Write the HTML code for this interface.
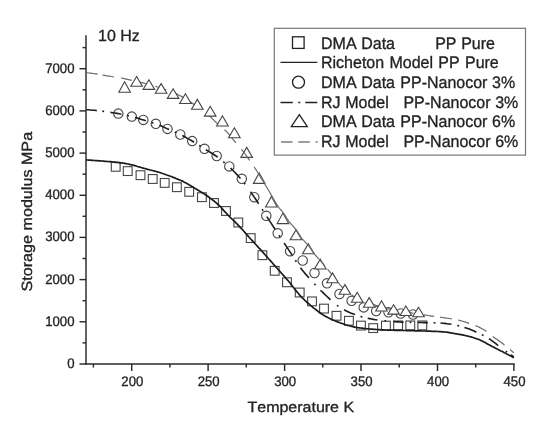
<!DOCTYPE html>
<html><head><meta charset="utf-8"><title>Storage modulus</title>
<style>
html,body{margin:0;padding:0;background:#fff;}
body{width:550px;height:431px;overflow:hidden;}
svg{display:block;text-rendering:geometricPrecision;font-kerning:none;font-family:"Liberation Sans",sans-serif;fill:#222;}
text{stroke:#222;stroke-width:0.3px;}
.tk{font-size:13.2px;}
.lg{font-size:16px;word-spacing:0.2px;}
</style></head><body>
<svg width="550" height="431" viewBox="0 0 550 431">
<defs><filter id="b" x="-2%" y="-2%" width="104%" height="104%"><feGaussianBlur stdDeviation="0.6"/></filter></defs>
<rect width="550" height="431" fill="#fff"/>
<g filter="url(#b)">
<g stroke="#2a2a2a" stroke-width="1.45" fill="none">
<path d="M86.0,35.3V364.8"/><path d="M85.2,364.0H514.8"/>
<path d="M86.0,364.0h-6.5"/>
<path d="M86.0,342.9h-3.5"/>
<path d="M86.0,321.8h-6.5"/>
<path d="M86.0,300.7h-3.5"/>
<path d="M86.0,279.6h-6.5"/>
<path d="M86.0,258.5h-3.5"/>
<path d="M86.0,237.4h-6.5"/>
<path d="M86.0,216.3h-3.5"/>
<path d="M86.0,195.3h-6.5"/>
<path d="M86.0,174.2h-3.5"/>
<path d="M86.0,153.1h-6.5"/>
<path d="M86.0,132.0h-3.5"/>
<path d="M86.0,110.9h-6.5"/>
<path d="M86.0,89.8h-3.5"/>
<path d="M86.0,68.7h-6.5"/>
<path d="M86.0,47.6h-3.5"/>
<path d="M93.4,364.0v3.5"/>
<path d="M131.7,364.0v7"/>
<path d="M169.9,364.0v3.5"/>
<path d="M208.1,364.0v7"/>
<path d="M246.3,364.0v3.5"/>
<path d="M284.6,364.0v7"/>
<path d="M322.8,364.0v3.5"/>
<path d="M361.0,364.0v7"/>
<path d="M399.2,364.0v3.5"/>
<path d="M437.5,364.0v7"/>
<path d="M475.7,364.0v3.5"/>
<path d="M513.9,364.0v7"/>
</g>
<text class="tk" transform="translate(74.5,368.0) scale(1,1.045)" text-anchor="end">0</text>
<text class="tk" transform="translate(74.5,325.8) scale(1,1.045)" text-anchor="end">1000</text>
<text class="tk" transform="translate(74.5,283.6) scale(1,1.045)" text-anchor="end">2000</text>
<text class="tk" transform="translate(74.5,241.4) scale(1,1.045)" text-anchor="end">3000</text>
<text class="tk" transform="translate(74.5,199.3) scale(1,1.045)" text-anchor="end">4000</text>
<text class="tk" transform="translate(74.5,157.1) scale(1,1.045)" text-anchor="end">5000</text>
<text class="tk" transform="translate(74.5,114.9) scale(1,1.045)" text-anchor="end">6000</text>
<text class="tk" transform="translate(74.5,72.7) scale(1,1.045)" text-anchor="end">7000</text>
<text class="tk" transform="translate(132.3,385.5) scale(1,1.045)" text-anchor="middle">200</text>
<text class="tk" transform="translate(208.7,385.5) scale(1,1.045)" text-anchor="middle">250</text>
<text class="tk" transform="translate(285.2,385.5) scale(1,1.045)" text-anchor="middle">300</text>
<text class="tk" transform="translate(361.6,385.5) scale(1,1.045)" text-anchor="middle">350</text>
<text class="tk" transform="translate(438.1,385.5) scale(1,1.045)" text-anchor="middle">400</text>
<text class="tk" transform="translate(514.5,385.5) scale(1,1.045)" text-anchor="middle">450</text>
<text transform="translate(300.8,412.4) scale(1.127,1.045)" text-anchor="middle" font-size="14.2px">Temperature K</text>
<text transform="translate(32.4,211.7) rotate(-90) scale(1.137,1.045)" text-anchor="middle" font-size="14.2px">Storage modulus MPa</text>
<text transform="translate(98,41.1) scale(1,1.0)" font-size="16px">10 Hz</text>
<g fill="none" stroke="#444" stroke-width="1.1">
<rect x="111.3" y="162.4" width="8.8" height="8.8"/>
<rect x="123.3" y="166.7" width="8.8" height="8.8"/>
<rect x="136.1" y="170.8" width="8.8" height="8.8"/>
<rect x="148.3" y="174.6" width="8.8" height="8.8"/>
<rect x="160.3" y="178.5" width="8.8" height="8.8"/>
<rect x="172.5" y="182.8" width="8.8" height="8.8"/>
<rect x="184.8" y="187.4" width="8.8" height="8.8"/>
<rect x="197.5" y="192.8" width="8.8" height="8.8"/>
<rect x="209.6" y="198.6" width="8.8" height="8.8"/>
<rect x="221.6" y="206.6" width="8.8" height="8.8"/>
<rect x="233.9" y="218.1" width="8.8" height="8.8"/>
<rect x="246.3" y="233.7" width="8.8" height="8.8"/>
<rect x="258.0" y="250.8" width="8.8" height="8.8"/>
<rect x="270.3" y="266.4" width="8.8" height="8.8"/>
<rect x="282.6" y="277.9" width="8.8" height="8.8"/>
<rect x="295.3" y="288.1" width="8.8" height="8.8"/>
<rect x="307.6" y="297.0" width="8.8" height="8.8"/>
<rect x="319.6" y="304.2" width="8.8" height="8.8"/>
<rect x="332.1" y="311.4" width="8.8" height="8.8"/>
<rect x="344.5" y="316.4" width="8.8" height="8.8"/>
<rect x="356.5" y="321.2" width="8.8" height="8.8"/>
<rect x="368.8" y="323.7" width="8.8" height="8.8"/>
<rect x="381.5" y="321.2" width="8.8" height="8.8"/>
<rect x="393.7" y="321.0" width="8.8" height="8.8"/>
<rect x="405.9" y="321.0" width="8.8" height="8.8"/>
<rect x="417.9" y="321.0" width="8.8" height="8.8"/>
</g>
<polyline points="86.0,159.9 87.4,160.0 88.9,160.1 90.3,160.2 91.7,160.3 93.2,160.4 94.6,160.5 96.0,160.6 97.4,160.7 98.9,160.8 100.3,160.9 101.7,161.0 103.2,161.1 104.6,161.3 106.0,161.4 107.5,161.5 108.9,161.6 110.3,161.7 111.8,161.8 113.2,162.0 114.6,162.1 116.0,162.3 117.5,162.4 118.9,162.6 120.3,162.8 121.8,162.9 123.2,163.2 124.6,163.4 126.1,163.7 127.5,164.0 128.9,164.2 130.4,164.6 131.8,164.9 133.2,165.2 134.6,165.6 136.1,166.0 137.5,166.5 138.9,166.9 140.4,167.3 141.8,167.7 143.2,168.1 144.7,168.5 146.1,168.9 147.5,169.3 149.0,169.6 150.4,170.0 151.8,170.3 153.2,170.7 154.7,171.1 156.1,171.5 157.5,171.9 159.0,172.3 160.4,172.8 161.8,173.3 163.3,173.8 164.7,174.2 166.1,174.8 167.6,175.3 169.0,175.8 170.4,176.3 171.8,176.8 173.3,177.4 174.7,177.9 176.1,178.5 177.6,179.1 179.0,179.7 180.4,180.3 181.9,180.9 183.3,181.6 184.7,182.4 186.2,183.1 187.6,183.9 189.0,184.8 190.4,185.6 191.9,186.4 193.3,187.3 194.7,188.2 196.2,189.0 197.6,189.9 199.0,190.7 200.5,191.6 201.9,192.5 203.3,193.4 204.8,194.4 206.2,195.3 207.6,196.3 209.0,197.3 210.5,198.4 211.9,199.4 213.3,200.5 214.8,201.6 216.2,202.8 217.6,204.1 219.1,205.4 220.5,206.8 221.9,208.4 223.4,210.1 224.8,211.7 226.2,213.2 227.6,214.7 229.1,216.1 230.5,217.6 231.9,219.0 233.4,220.3 234.8,221.7 236.2,223.2 237.7,224.6 239.1,226.1 240.5,227.7 242.0,229.2 243.4,230.8 244.8,232.4 246.2,234.0 247.7,235.6 249.1,237.2 250.5,238.8 252.0,240.4 253.4,241.9 254.8,243.5 256.3,245.0 257.7,246.6 259.1,248.2 260.6,249.7 262.0,251.3 263.4,252.9 264.8,254.5 266.3,256.1 267.7,257.7 269.1,259.3 270.6,260.9 272.0,262.5 273.4,264.2 274.9,265.8 276.3,267.4 277.7,269.0 279.2,270.6 280.6,272.2 282.0,273.8 283.4,275.4 284.9,277.0 286.3,278.7 287.7,280.3 289.2,282.0 290.6,283.8 292.0,285.6 293.5,287.4 294.9,289.3 296.3,291.1 297.8,292.8 299.2,294.5 300.6,296.1 302.0,297.6 303.5,299.0 304.9,300.4 306.3,301.7 307.8,303.0 309.2,304.2 310.6,305.4 312.1,306.6 313.5,307.8 314.9,308.9 316.4,310.0 317.8,311.1 319.2,312.2 320.6,313.2 322.1,314.2 323.5,315.1 324.9,316.0 326.4,316.8 327.8,317.6 329.2,318.3 330.7,319.0 332.1,319.6 333.5,320.2 335.0,320.8 336.4,321.4 337.8,321.9 339.2,322.5 340.7,323.0 342.1,323.5 343.5,324.0 345.0,324.5 346.4,325.0 347.8,325.4 349.3,325.8 350.7,326.2 352.1,326.5 353.6,326.8 355.0,327.1 356.4,327.3 357.8,327.6 359.3,327.8 360.7,328.0 362.1,328.2 363.6,328.4 365.0,328.5 366.4,328.7 367.9,328.8 369.3,329.0 370.7,329.1 372.2,329.2 373.6,329.3 375.0,329.4 376.4,329.5 377.9,329.6 379.3,329.7 380.7,329.8 382.2,329.9 383.6,329.9 385.0,330.0 386.5,330.0 387.9,330.1 389.3,330.1 390.8,330.1 392.2,330.2 393.6,330.2 395.0,330.3 396.5,330.3 397.9,330.3 399.3,330.4 400.8,330.4 402.2,330.5 403.6,330.5 405.1,330.5 406.5,330.6 407.9,330.6 409.4,330.6 410.8,330.7 412.2,330.7 413.6,330.7 415.1,330.8 416.5,330.8 417.9,330.8 419.4,330.9 420.8,330.9 422.2,331.0 423.7,331.0 425.1,331.0 426.5,331.1 428.0,331.1 429.4,331.2 430.8,331.2 432.2,331.3 433.7,331.3 435.1,331.4 436.5,331.4 438.0,331.5 439.4,331.6 440.8,331.7 442.3,331.8 443.7,331.9 445.1,332.0 446.6,332.2 448.0,332.4 449.4,332.6 450.8,332.8 452.3,333.1 453.7,333.3 455.1,333.6 456.6,333.8 458.0,334.1 459.4,334.3 460.9,334.6 462.3,334.9 463.7,335.2 465.2,335.5 466.6,335.8 468.0,336.2 469.4,336.5 470.9,336.9 472.3,337.3 473.7,337.8 475.2,338.2 476.6,338.7 478.0,339.2 479.5,339.8 480.9,340.4 482.3,341.1 483.8,341.9 485.2,342.6 486.6,343.4 488.0,344.2 489.5,345.0 490.9,345.8 492.3,346.6 493.8,347.3 495.2,348.1 496.6,348.8 498.1,349.5 499.5,350.2 500.9,350.9 502.4,351.6 503.8,352.4 505.2,353.1 506.6,353.9 508.1,354.6 509.5,355.4 510.9,356.1 512.4,356.9 513.8,357.7" fill="none" stroke="#1a1a1a" stroke-width="1.7"/>
<g fill="none" stroke="#444" stroke-width="1.1">
<circle cx="118.3" cy="113.6" r="4.7"/>
<circle cx="131.8" cy="116.6" r="4.7"/>
<circle cx="143.3" cy="119.9" r="4.7"/>
<circle cx="155.8" cy="123.8" r="4.7"/>
<circle cx="167.5" cy="128.9" r="4.7"/>
<circle cx="180.3" cy="134.5" r="4.7"/>
<circle cx="192.2" cy="141.1" r="4.7"/>
<circle cx="204.5" cy="148.8" r="4.7"/>
<circle cx="216.7" cy="156.0" r="4.7"/>
<circle cx="229.3" cy="166.4" r="4.7"/>
<circle cx="241.8" cy="178.8" r="4.7"/>
<circle cx="254.3" cy="197.2" r="4.7"/>
<circle cx="266.3" cy="215.8" r="4.7"/>
<circle cx="277.7" cy="233.3" r="4.7"/>
<circle cx="290.1" cy="251.2" r="4.7"/>
<circle cx="302.7" cy="260.5" r="4.7"/>
<circle cx="314.5" cy="273.0" r="4.7"/>
<circle cx="327.0" cy="283.3" r="4.7"/>
<circle cx="339.5" cy="294.0" r="4.7"/>
<circle cx="351.6" cy="300.8" r="4.7"/>
<circle cx="363.7" cy="307.4" r="4.7"/>
<circle cx="376.2" cy="311.0" r="4.7"/>
<circle cx="388.5" cy="312.3" r="4.7"/>
<circle cx="400.7" cy="313.5" r="4.7"/>
<circle cx="413.0" cy="314.5" r="4.7"/>
</g>
<g fill="none" stroke="#1c1c1c" stroke-width="1.6">
<polyline points="86.4,109.7 88.5,109.8 90.6,110.0 92.6,110.2 94.7,110.3 96.8,110.6"/>
<polyline points="110.5,112.4 112.7,112.7 114.9,113.0 117.0,113.4 119.2,113.8 121.4,114.2"/>
<polyline points="135.0,117.5 137.2,118.1 139.4,118.7 141.5,119.4 143.7,120.0 145.9,120.7"/>
<polyline points="159.5,125.3 161.4,126.1 163.4,127.0 165.3,127.9 167.3,128.8 169.2,129.6"/>
<polyline points="182.3,135.5 184.7,136.8 187.0,138.1 189.4,139.4 191.7,140.8 194.1,142.2"/>
<polyline points="205.9,149.7 208.3,151.1 210.6,152.5 213.0,154.0 215.3,155.5 217.7,157.2"/>
<polyline points="230.5,168.1 232.5,170.0 234.5,172.0 236.5,174.1 238.5,176.2 240.5,178.5"/>
<polyline points="250.5,191.7 252.1,194.0 253.7,196.4 255.4,198.8 257.0,201.2 258.6,203.7"/>
<polyline points="266.8,216.6 268.4,219.1 270.1,221.6 271.7,224.1 273.4,226.7 275.0,229.2"/>
<polyline points="284.1,243.0 285.7,245.4 287.4,247.9 289.0,250.4 290.7,252.9 292.3,255.4"/>
<polyline points="300.5,267.8 302.2,270.0 303.9,272.1 305.6,274.1 307.3,276.0 309.0,277.9"/>
<polyline points="320.5,290.2 322.5,292.2 324.5,294.1 326.5,296.0 328.5,297.9 330.5,299.8"/>
<polyline points="344.1,309.8 346.3,311.0 348.5,312.0 350.6,313.0 352.8,313.8 355.0,314.6"/>
<polyline points="367.7,318.2 369.7,318.6 371.6,319.0 373.6,319.4 375.5,319.7 377.5,320.0"/>
<polyline points="393.2,321.6 395.3,321.8 397.3,321.9 399.4,322.0 401.4,322.1 403.5,322.1"/>
<polyline points="417.7,322.4 419.7,322.5 421.8,322.5 423.8,322.6 425.9,322.6 427.9,322.7"/>
<polyline points="440.5,323.0 442.7,323.2 444.9,323.4 447.0,323.7 449.2,324.0 451.4,324.3"/>
<polyline points="464.5,327.4 466.9,328.2 469.3,329.1 471.6,330.1 474.0,331.1 476.4,332.2"/>
<polyline points="489.0,338.6 490.8,339.9 492.7,341.3 494.5,342.7 496.4,344.2 498.2,345.6"/>
<polyline points="510.6,354.6 511.2,355.1 511.9,355.5 512.5,356.0 513.2,356.4 513.8,356.9"/>
<path d="M102.3,111.2L104.1,111.4"/>
<path d="M127.1,115.4L128.9,115.9"/>
<path d="M151.6,122.4L153.4,122.9"/>
<path d="M174.8,132.0L176.4,132.7"/>
<path d="M199.2,145.5L200.8,146.4"/>
<path d="M223.3,161.7L224.7,162.9"/>
<path d="M244.1,182.8L245.1,184.2"/>
<path d="M262.1,209.2L263.1,210.8"/>
<path d="M279.0,235.3L280.0,236.8"/>
<path d="M295.4,260.3L296.4,261.8"/>
<path d="M314.4,283.8L315.6,285.1"/>
<path d="M337.0,305.4L338.4,306.4"/>
<path d="M360.5,316.4L362.3,316.9"/>
<path d="M384.4,320.8L386.2,321.0"/>
<path d="M409.6,322.3L411.4,322.3"/>
<path d="M433.6,322.8L435.4,322.8"/>
<path d="M457.3,325.5L459.1,325.9"/>
<path d="M481.9,334.7L483.5,335.5"/>
<path d="M505.7,351.1L507.1,352.2"/>
</g>
<g fill="none" stroke="#6a6a6a" stroke-width="1.2">
<polyline points="86.4,72.7 88.7,73.0 90.9,73.2 93.2,73.5 95.4,73.8 97.7,74.2"/>
<polyline points="102.3,75.0 104.6,75.4 106.9,75.8 109.3,76.1 111.6,76.5 113.9,76.8"/>
<polyline points="121.0,78.0 123.2,78.4 125.3,78.9 127.5,79.4 129.6,79.8 131.8,80.3"/>
<polyline points="138.5,81.8 140.7,82.4 142.9,82.9 145.1,83.5 147.3,84.0 149.5,84.6"/>
<polyline points="155.4,86.3 157.6,87.0 159.8,87.7 162.0,88.4 164.2,89.2 166.4,89.9"/>
<polyline points="172.5,92.2 174.7,93.2 176.9,94.1 179.1,95.2 181.3,96.4 183.5,97.6"/>
<polyline points="189.5,101.4 191.6,102.8 193.7,104.2 195.8,105.6 197.9,107.0 200.0,108.5"/>
<polyline points="207.0,113.7 209.3,115.7 211.6,117.9 214.0,120.3 216.3,122.7 218.6,125.0"/>
<polyline points="224.5,129.8 226.8,131.9 229.1,134.4 231.3,137.2 233.6,140.1 235.9,142.9"/>
<polyline points="424.0,314.9 426.0,315.2 428.0,315.5 430.0,315.8 432.0,316.1 434.0,316.4"/>
<polyline points="440.0,317.2 442.4,317.5 444.7,317.8 447.1,318.2 449.4,318.5 451.8,318.9"/>
<polyline points="458.2,320.0 460.4,320.6 462.6,321.2 464.7,321.9 466.9,322.7 469.1,323.3"/>
<polyline points="475.5,325.6 477.7,326.5 479.9,327.6 482.0,328.7 484.2,329.9 486.4,331.3"/>
<polyline points="492.7,336.5 495.1,338.2 497.4,339.8 499.8,341.4 502.1,343.1 504.5,344.9"/>
<polyline points="510.0,349.5 510.8,350.1 511.5,350.8 512.3,351.5 513.0,352.1 513.8,352.8"/>
<polyline stroke-dasharray="11.5 6.3" stroke-dashoffset="-4" points="325.0,266.1 325.8,267.1 326.6,268.0 327.4,269.0 328.2,270.0 328.9,270.9 329.7,271.9 330.5,272.9 331.3,273.9 332.1,274.8 332.9,275.8 333.7,276.7 334.5,277.7 335.3,278.7 336.1,279.7 336.8,280.7 337.6,281.8 338.4,282.8 339.2,283.8 340.0,284.8 340.8,285.7 341.6,286.7 342.4,287.5 343.2,288.4 344.0,289.2 344.7,289.9 345.5,290.5 346.3,291.2 347.1,291.8 347.9,292.4 348.7,292.9 349.5,293.5 350.3,294.0 351.1,294.5 351.9,295.0 352.6,295.5 353.4,296.0 354.2,296.4 355.0,296.9 355.8,297.3 356.6,297.7 357.4,298.1 358.2,298.5 359.0,298.9 359.8,299.2 360.5,299.6 361.3,299.9 362.1,300.3 362.9,300.6 363.7,300.9 364.5,301.2 365.3,301.5 366.1,301.8 366.9,302.1 367.7,302.4 368.4,302.7 369.2,303.0 370.0,303.3 370.8,303.6 371.6,303.9 372.4,304.1 373.2,304.4 374.0,304.7 374.8,304.9 375.6,305.2 376.3,305.5 377.1,305.7 377.9,305.9 378.7,306.2 379.5,306.4 380.3,306.7 381.1,306.9 381.9,307.1 382.7,307.3 383.5,307.5 384.2,307.8 385.0,308.0 385.8,308.2 386.6,308.4 387.4,308.6 388.2,308.8 389.0,309.0 389.8,309.2 390.6,309.4 391.4,309.5 392.1,309.7 392.9,309.9 393.7,310.0 394.5,310.2 395.3,310.3 396.1,310.5 396.9,310.6 397.7,310.7 398.5,310.9 399.3,311.0 400.0,311.1 400.8,311.2 401.6,311.4 402.4,311.5 403.2,311.6 404.0,311.7 404.8,311.8 405.6,312.0 406.4,312.1 407.2,312.2 407.9,312.3 408.7,312.5 409.5,312.6 410.3,312.7 411.1,312.8 411.9,313.0 412.7,313.1 413.5,313.2 414.3,313.3 415.1,313.5 415.8,313.6 416.6,313.7 417.4,313.8 418.2,314.0 419.0,314.1"/>
</g>
<g fill="#fff" stroke="#444" stroke-width="1.1">
<path d="M124.6,81.8L130.4,92.3H118.8Z"/>
<path d="M136.6,76.5L142.4,86.2H130.8Z"/>
<path d="M148.9,79.7L154.7,89.4H143.1Z"/>
<path d="M161.1,83.6L166.9,93.3H155.3Z"/>
<path d="M173.1,88.7L178.9,98.4H167.3Z"/>
<path d="M185.4,93.8L191.2,103.5H179.6Z"/>
<path d="M197.3,99.4L203.1,109.3H191.5Z"/>
<path d="M210.2,106.3L216.0,116.1H204.4Z"/>
<path d="M222.4,115.8L228.2,126.0H216.6Z"/>
<path d="M234.4,127.8L240.2,137.8H228.6Z"/>
<path d="M246.7,147.4L252.5,157.4H240.9Z"/>
<path d="M259.2,173.0L265.0,183.4H253.4Z"/>
<path d="M271.4,196.5L277.2,207.0H265.6Z"/>
<path d="M282.9,213.1L288.7,223.6H277.1Z"/>
<path d="M296.0,229.9L301.8,239.8H290.2Z"/>
<path d="M308.3,243.9L314.1,253.8H302.5Z"/>
<path d="M320.3,259.2L326.1,269.0H314.5Z"/>
<path d="M332.5,272.9L338.3,282.8H326.7Z"/>
<path d="M344.9,284.6L350.7,294.2H339.1Z"/>
<path d="M357.2,292.3L363.0,302.2H351.4Z"/>
<path d="M369.2,297.6L375.0,307.2H363.4Z"/>
<path d="M381.5,300.8L387.3,311.0H375.7Z"/>
<path d="M393.6,304.7L399.4,314.1H387.8Z"/>
<path d="M405.8,306.0L411.6,315.5H400.0Z"/>
<path d="M418.5,307.3L424.3,316.7H412.7Z"/>
</g>
<g fill="none" stroke="#6a6a6a" stroke-width="1.2">
<polyline points="241.4,149.3 243.1,151.3 244.7,153.5 246.4,155.7 248.0,158.1 249.7,160.4"/>
<polyline points="254.1,166.8 255.3,168.7 256.5,170.5 257.7,172.5 258.9,174.4 260.1,176.4 261.3,178.4 262.5,180.3 263.7,182.3 264.9,184.3 266.1,186.3 267.3,188.3 268.5,190.3 269.7,192.3 270.9,194.4 272.1,196.4 273.3,198.5 274.5,200.6 275.7,202.7 276.9,204.6 278.1,206.4 279.3,208.0 280.5,209.5 281.7,210.9 282.9,212.4 284.1,214.1 285.3,215.9 286.5,217.8 287.7,219.7 288.9,221.4 290.2,222.9 291.4,224.3 292.6,225.7 293.8,227.0 295.0,228.3 296.2,229.9 297.4,231.6 298.6,233.5 299.8,235.4 301.0,237.3 302.2,238.8 303.4,240.2 304.6,241.4 305.8,242.6 307.0,243.8 308.2,245.2 309.4,246.7 310.6,248.4 311.8,250.2 313.0,251.9 314.2,253.6 315.4,255.1 316.6,256.5 317.8,257.8 319.0,259.1 320.2,260.4 321.4,261.8 322.6,263.2 323.8,264.6 325.0,266.1"/>
</g>
<rect x="274.3" y="28.3" width="251.2" height="126.8" fill="#fff" stroke="#777" stroke-width="1.2"/>
<g fill="none" stroke="#222" stroke-width="1.3">
<rect x="292.5" y="36.8" width="11.6" height="11.6"/>
<circle cx="298.5" cy="82.2" r="6.0"/>
<path d="M299.3,114.6L307.3,126.6H291.3Z"/>
<path d="M280.5,62.4H317.3" stroke-width="1.4"/>
<path d="M280.5,102.4H317.3" stroke-width="1.5" stroke-dasharray="12.3 5.5 2 5"/>
<path d="M281,142H317.6" stroke="#7c7c7c" stroke-width="1.4" stroke-dasharray="11.5 5.8"/>
</g>
<text class="lg" transform="translate(321,48.8) scale(1,1.045)">DMA Data</text>
<text class="lg" transform="translate(435.2,48.8) scale(1,1.045)">PP Pure</text>
<text class="lg" style="word-spacing:0.85px" transform="translate(321,68.4) scale(1,1.045)">Richeton Model PP Pure</text>
<text class="lg" transform="translate(321,88) scale(1,1.045)">DMA Data</text>
<text class="lg" transform="translate(400.3,88) scale(1,1.045)">PP-Nanocor 3%</text>
<text class="lg" transform="translate(321,107.6) scale(1,1.045)">RJ Model</text>
<text class="lg" transform="translate(403.4,107.6) scale(1,1.045)">PP-Nanocor 3%</text>
<text class="lg" transform="translate(321,127.2) scale(1,1.045)">DMA Data</text>
<text class="lg" transform="translate(400.3,127.2) scale(1,1.045)">PP-Nanocor 6%</text>
<text class="lg" transform="translate(321,146.8) scale(1,1.045)">RJ Model</text>
<text class="lg" transform="translate(403.4,146.8) scale(1,1.045)">PP-Nanocor 6%</text>
</g></svg></body></html>
